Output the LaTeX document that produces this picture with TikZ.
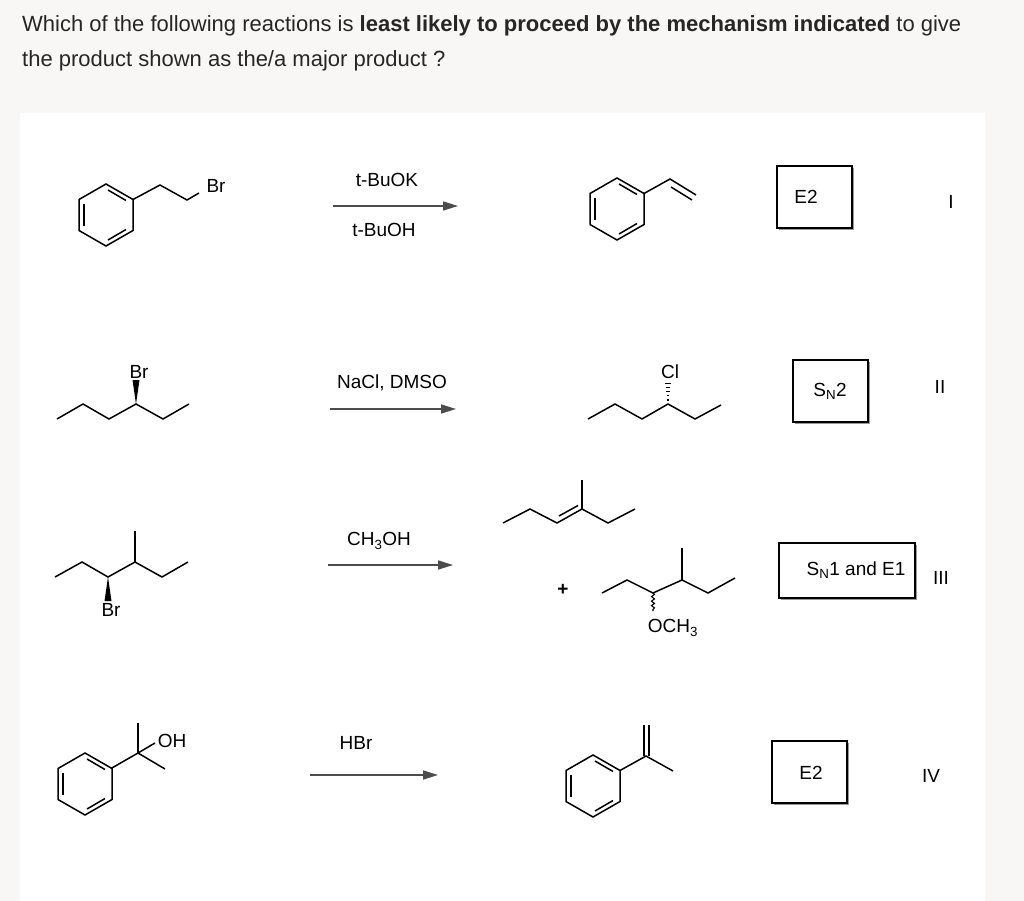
\documentclass[tikz,border=0pt]{standalone}
\usepackage{fontspec}
\setmainfont{Liberation Sans}
\usetikzlibrary{decorations.pathmorphing,arrows.meta}
\definecolor{bg}{HTML}{F8F7F5}
\newcommand\benz[2]{%
  \draw[bond] (#1,#2-31) -- (#1+27,#2-15.5) -- (#1+27,#2+15.5) -- (#1,#2+31) -- (#1-27,#2+15.5) -- (#1-27,#2-15.5) -- cycle;
  \draw[bond] (#1-22,#2-11) -- (#1-22,#2+11);
  \draw[bond] (#1+2,#2-25) -- (#1+20,#2-14.5);
  \draw[bond] (#1+2,#2+25) -- (#1+20,#2+14.5);
}
\begin{document}
\begin{tikzpicture}[x=1pt,y=-1pt,
  bond/.style={line width=1.5pt,line join=miter},
  lab/.style={font=\fontsize{19}{21}\selectfont,inner sep=0pt},
  rx/.style={draw=black!70,line width=1.6pt,-{Triangle[length=15pt,width=9pt]}},
  mbox/.style={draw,line width=1.4pt,fill=white},
  shad/.style={fill=black!40}]
\fill[bg] (0,0) rectangle (1024,901);
\fill[white] (20,113) rectangle (985,901);
\useasboundingbox (0,0) rectangle (1024,901);
\node[anchor=west,inner sep=0pt,font=\fontsize{22}{24}\selectfont,text=black!85] (t1) at (22,26) {Which of the following reactions is \textbf{least likely to proceed by the mechanism indicated} to give};
\node[anchor=west,inner sep=0pt,font=\fontsize{22}{24}\selectfont,text=black!85] (t2) at (22,61) {the product shown as the/a major product ?};
% Row 1
\benz{106}{215}
\draw[bond] (133,199.5) -- (160,185) -- (187,200) -- (199,193);
\node[lab] (br1) at (216,186) {Br};
\coordinate (a1s) at (333,206); \coordinate (a1e) at (458,206);
\draw[rx] (a1s) -- (a1e);
\node[lab] (c1a) at (387,180) {t-BuOK};
\node[lab] (c1b) at (384,230) {t-BuOH};
\benz{617}{209}
\draw[bond] (644,193.5) -- (670,179) -- (696,195);
\draw[bond] (671,187) -- (692,200);
\fill[shad] (779,168) rectangle (854,230);
\node[mbox,minimum width=75pt,minimum height=62pt] (b1) at (814.5,197) {};
\node[lab] at (806,197) {E2};
\node[lab] (r1) at (951,202) {I};
% Row 2
\draw[bond] (57,419) -- (83,404) -- (109,419) -- (136,404) -- (163,419) -- (189,404);
\fill (136,404) -- (132.5,380) -- (139.5,380) -- cycle;
\node[lab] (br2) at (139,372) {Br};
\coordinate (a2s) at (330,409); \coordinate (a2e) at (456,409);
\draw[rx] (a2s) -- (a2e);
\node[lab] (c2) at (392,383) {NaCl, DMSO};
\draw[bond] (588,419) -- (615,404) -- (642,419) -- (668,404) -- (695,419) -- (721,405);
\foreach \k in {0,...,4} {\draw[line width=1.1pt] (668-0.6-0.5*\k,400-4.2*\k) -- (668+0.6+0.5*\k,400-4.2*\k);}
\node[lab] (cl) at (670,372) {Cl};
\fill[shad] (795,362) rectangle (870,424);
\node[mbox,minimum width=75pt,minimum height=62pt] (b2) at (830.5,391) {};
\node[lab] at (830,391) {S\textsubscript{N}2};
\node[lab] (r2) at (940,387) {II};
% Row 3
\draw[bond] (55,577) -- (82,562) -- (108,577) -- (135,562) -- (162,577) -- (188,562);
\draw[bond] (135,562) -- (135,531);
\fill (108,577) -- (104.5,601) -- (111.5,601) -- cycle;
\node[lab] (br3) at (111,610) {Br};
\coordinate (a3s) at (328,565); \coordinate (a3e) at (453,565);
\draw[rx] (a3s) -- (a3e);
\node[lab] (c3) at (379,541) {CH\textsubscript{3}OH};
\draw[bond] (503,523) -- (530,509) -- (557,523) -- (582,509) -- (608,523) -- (635,509);
\draw[bond] (582,509) -- (582,480);
\draw[bond] (559,516) -- (578,505.5);
\node[lab] (plus) at (563,590) {\textbf{+}};
\draw[bond] (602,593) -- (627,580) -- (653,593) -- (682,580) -- (708,593) -- (735,578);
\draw[bond] (682,580) -- (682,548);
\draw[line width=1.1pt,decorate,decoration={snake,amplitude=1.5pt,segment length=4.5pt}] (653,593) -- (653,611);
\node[lab] (och) at (673,628) {OCH\textsubscript{3}};
\fill[shad] (781,545) rectangle (917,600);
\node[mbox,minimum width=136pt,minimum height=55pt] (b3) at (847,570.5) {};
\node[lab] at (856,570) {S\textsubscript{N}1 and E1};
\node[lab] (r3) at (941,578) {III};
% Row 4
\benz{85}{784}
\draw[bond] (111,768.5) -- (138,753);
\draw[bond] (138,753) -- (138,723);
\draw[bond] (138,753) -- (155,743);
\draw[bond] (138,753) -- (165,769);
\node[lab] (oh) at (172,741) {OH};
\coordinate (a4s) at (310,775); \coordinate (a4e) at (438,775);
\draw[rx] (a4s) -- (a4e);
\node[lab] (c4) at (356,743) {HBr};
\benz{593}{786}
\draw[bond] (620,770.5) -- (646,756) -- (673,771);
\draw[bond] (644,756) -- (644,725);
\draw[bond] (649,756) -- (649,725);
\fill[shad] (774,743) rectangle (849,805);
\node[mbox,minimum width=75pt,minimum height=62pt] (b4) at (809.5,772) {};
\node[lab] at (811,773) {E2};
\node[lab] (r4) at (931,776) {IV};
\end{tikzpicture}
\end{document}
